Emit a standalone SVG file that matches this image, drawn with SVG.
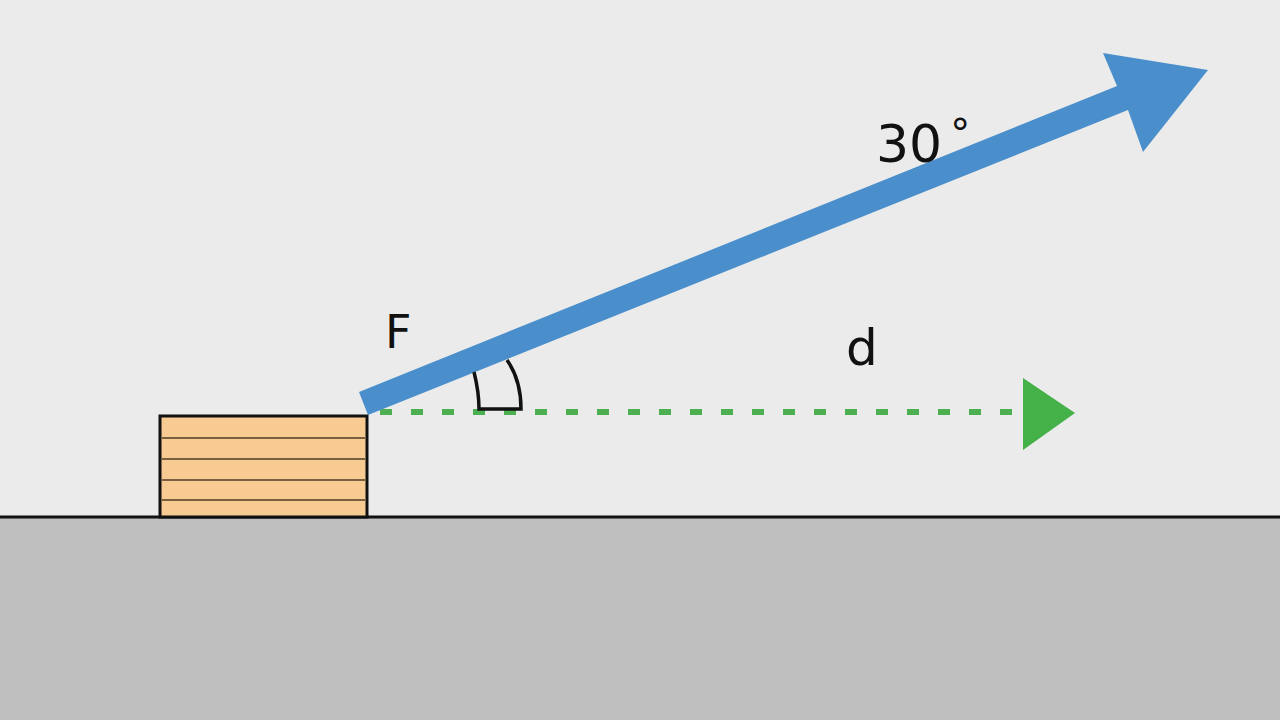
<svg xmlns="http://www.w3.org/2000/svg" width="1280" height="720" viewBox="0 0 1280 720">
<style>
.lbl{font-family:"DejaVu Sans","Liberation Sans",sans-serif;fill:#111}
.plank{stroke:#7a6040;stroke-width:2}
</style>
<rect x="0" y="0" width="1280" height="720" fill="#ebebeb"/>
<g id="ground">
<rect x="0" y="517" width="1280" height="203" fill="#bfbfbf"/>
<line x1="0" y1="517" x2="1280" y2="517" stroke="#111" stroke-width="3"/>
</g>
<g id="block">
<rect x="160" y="416" width="207" height="101" fill="#f7cb92" stroke="#111" stroke-width="3"/>
<line class="plank" x1="162" y1="438" x2="365" y2="438"/>
<line class="plank" x1="162" y1="459" x2="365" y2="459"/>
<line class="plank" x1="162" y1="480" x2="365" y2="480"/>
<line class="plank" x1="162" y1="500" x2="365" y2="500"/>
</g>
<g id="connectors">
<line x1="380" y1="412" x2="1020" y2="412" stroke="#4cb050" stroke-width="6" stroke-dasharray="12 19"/>
<polygon points="1023,378 1023,450 1075,413" fill="#44b048"/>
<polygon points="359,392 1117,86 1103,53 1208,70 1143,152 1128,110 368,415" fill="#4a8fcb"/>
<path d="M474 372 Q479 392 479 409 L521 409 Q521 380 507 360" fill="none" stroke="#111" stroke-width="3.5"/>
</g>
<g id="labels">
<text class="lbl" x="385" y="348" font-size="46">F</text>
<text class="lbl" x="876" y="162" font-size="52">30<tspan dx="8" font-size="40" dy="-14">°</tspan></text>
<text class="lbl" x="846" y="365" font-size="50">d</text>
</g>
</svg>
